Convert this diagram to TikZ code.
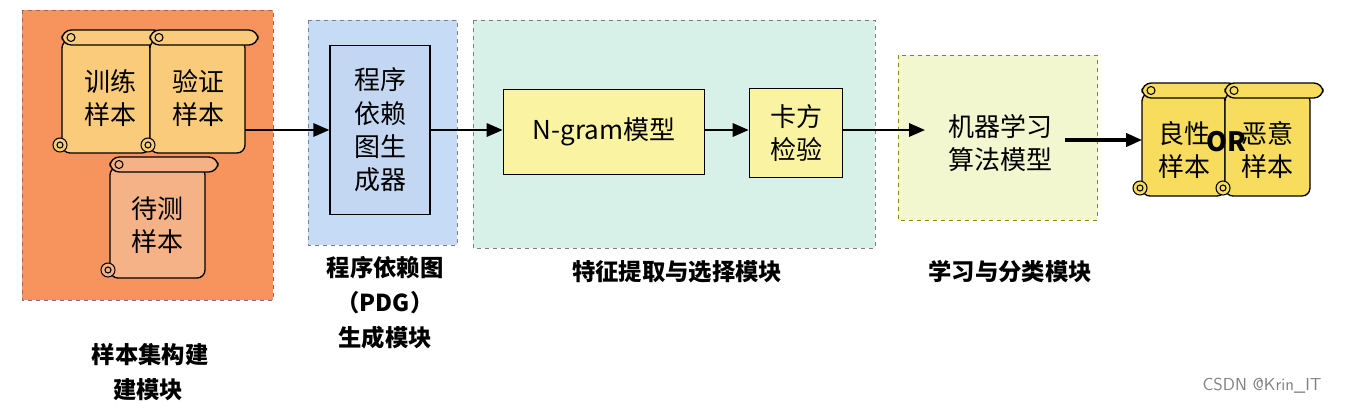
\documentclass[tikz,border=0pt]{standalone}
\usepackage{fontspec}
\setmainfont{Noto Sans CJK SC}
\usetikzlibrary{arrows.meta}
\definecolor{regO}{HTML}{F7945E}
\definecolor{regB}{HTML}{C6DCF6}
\definecolor{boxB}{HTML}{C4D7F2}
\definecolor{regG}{HTML}{D7F1E8}
\definecolor{regY}{HTML}{F2F7CF}
\definecolor{boxY}{HTML}{FAF4A2}
\definecolor{scrA}{HTML}{F9CB7A}
\definecolor{scrB}{HTML}{F6B287}
\definecolor{scrC}{HTML}{F8DC5E}
\newcommand\myscroll[6]{%
 \draw[fill=#5,line width=1pt,rounded corners=6] (#1,#2+10) rectangle (#3,#4);
 \draw[fill=#5,line width=1pt,rounded corners=7] (#1,#2) rectangle (#3+13,#2+15);
 \draw[line width=0.8pt] (#1+9,#2+7.5) circle (4);
 \draw[fill=#5,line width=0.8pt] (#1-2,#4-8) circle (7);
 \draw[line width=0.8pt] (#1-2,#4-8) circle (3);
 \coordinate (#6) at ({(#1+#3)/2},{(#2+#4)/2+6});}
\tikzset{region/.style={dashed,line width=0.6pt},
 lab/.style={font=\fontsize{17.5}{21}\selectfont\bfseries},
 box/.style={draw,line width=1pt,fill=#1},
 arr/.style={-{Triangle[length=12pt,width=10pt]},line width=1.6pt},
 txt/.style={font=\fontsize{19.5}{25}\selectfont,align=center}}
\begin{document}
\begin{tikzpicture}[x=0.75pt,y=-0.75pt]
\useasboundingbox (0,0) rectangle (1355,411);
\fill[white] (0,0) rectangle (1355,411);
% regions
\draw[region,draw=gray!80!red,fill=regO] (22,10) rectangle (273,300);
\draw[region,draw=gray,fill=regB] (308,20) rectangle (457,245);
\draw[region,draw=gray,fill=regG] (473,20) rectangle (875,248);
\draw[region,draw=olive,fill=regY] (898,55) rectangle (1097,220);
% scrolls
\myscroll{62}{30}{150}{153}{scrA}{s1}
\node[txt] (s1t) at (110,98) {训练\\样本};
\myscroll{150}{30}{245}{153}{scrA}{s2}
\node[txt] (s2t) at (198,98) {验证\\样本};
\myscroll{110}{157}{205}{278}{scrB}{s3}
\node[txt] (s3t) at (157,225) {待测\\样本};
\myscroll{1142}{83}{1225}{196}{scrC}{r1}
\myscroll{1225}{83}{1310}{196}{scrC}{r2}
\node[txt] (r1t) at (1184,150) {良性\\样本};
\node[txt] (r2t) at (1267,150) {恶意\\样本};
\node[font=\fontsize{20}{22}\selectfont\bfseries] (or) at (1226,142) {OR};
% boxes
\node[box=boxB,minimum width=75pt,minimum height=127pt,txt] (pdg) at (380,130) {程序\\依赖\\图生\\成器};
\node[box=boxY,minimum width=151pt,minimum height=64pt,txt] (ng) at (604,132) {N-gram模型};
\node[box=boxY,minimum width=70pt,minimum height=67pt,txt] (chi) at (796,133) {卡方\\检验};
\node[txt] (ml) at (1000,143) {机器学习\\算法模型};
% arrows
\coordinate (a1) at (245,130);
\draw[arr] (a1) -- (pdg.west|-a1);
\draw[arr] (pdg.east|-a1) -- (ng.west|-a1);
\draw[arr] (ng.east|-a1) -- (chi.west|-a1);
\coordinate (a4) at (925,130);
\draw[arr] (chi.east|-a1) -- (a4);
\coordinate (a5) at (1065,140);
\coordinate (a6) at (1142,140);
\draw[arr,line width=2.4pt] (a5) -- (a6);
% labels
\node[lab] (l1) at (150,355) {样本集构建};
\node[lab] (l1b) at (148,390) {建模块};
\node[lab] (l2) at (385,268) {程序依赖图};
\node[lab] (l2b) at (385,303) {（PDG）};
\node[lab] (l2c) at (385,338) {生成模块};
\node[lab] (l3) at (677,272) {特征提取与选择模块};
\node[lab] (l4) at (1010,272) {学习与分类模块};
\node[font=\fontsize{13}{15}\selectfont\sffamily,text=gray] (wm) at (1262,386) {CSDN @Krin\_IT};
\end{tikzpicture}
\end{document}
